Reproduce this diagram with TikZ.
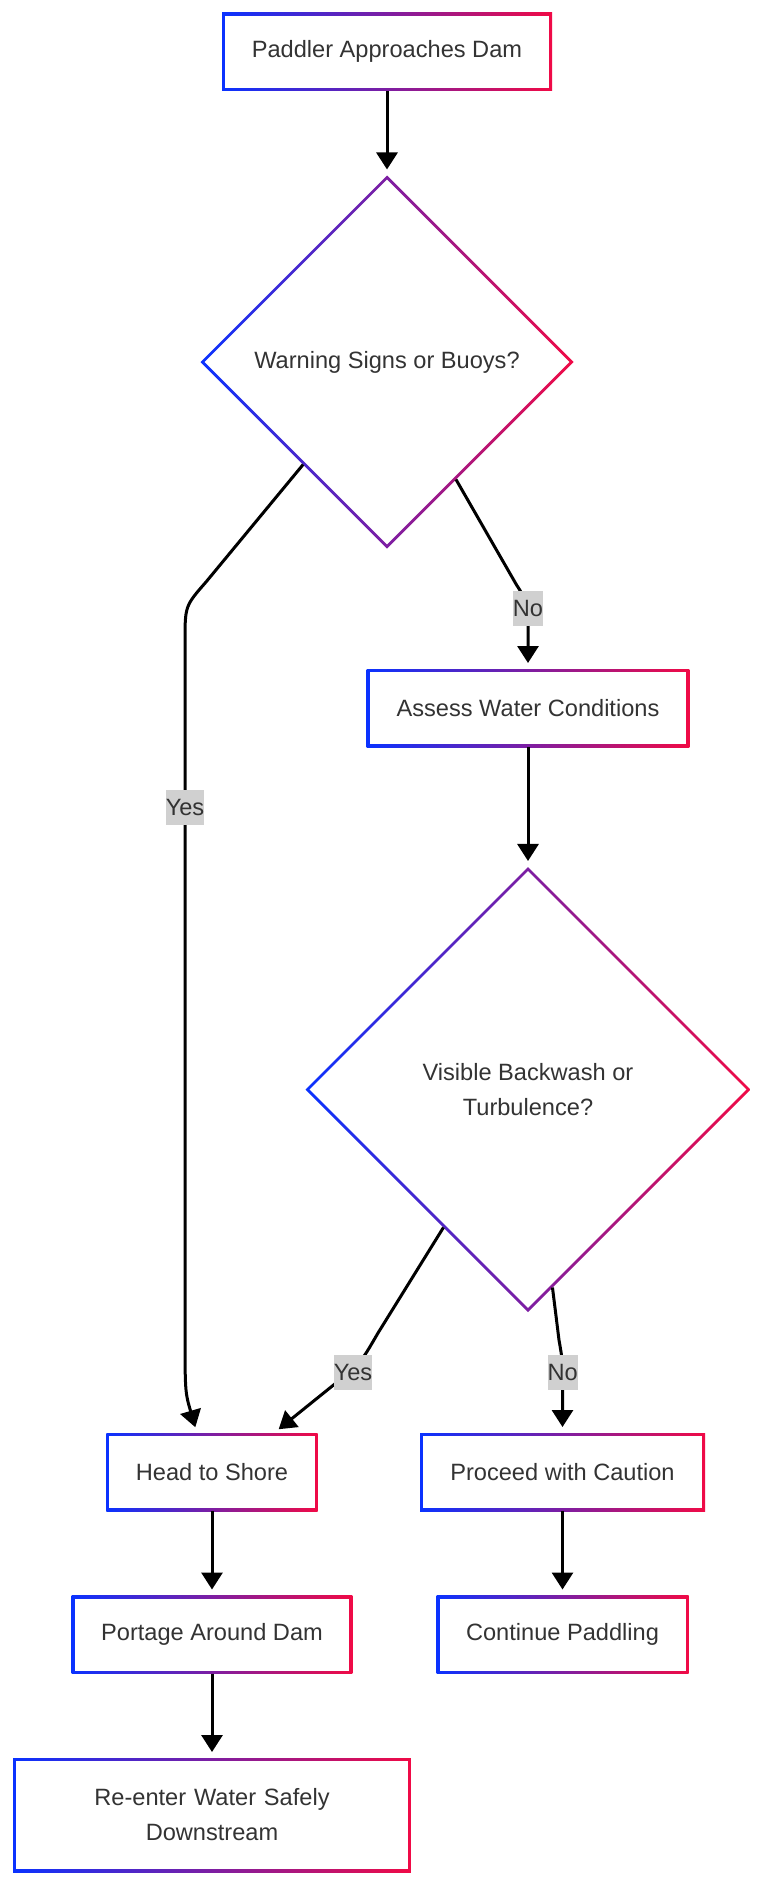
\documentclass[tikz,border=0pt]{standalone}
\usepackage{fontspec}
\setmainfont{Liberation Sans}
\usetikzlibrary{arrows.meta,shapes.geometric,calc}

\definecolor{gblue}{RGB}{10,50,255}
\definecolor{gred}{RGB}{240,10,70}
\definecolor{ink}{RGB}{51,51,51}
\definecolor{lblgray}{RGB}{208,208,208}

\tikzset{
  gradbox/.style={rectangle, left color=gblue, right color=gred, text=ink, outer sep=0pt,
    font=\fontsize{23.6}{35}\selectfont, inner xsep=29.5pt, minimum height=78pt,
    path picture={\fill[white] ([shift={(3pt,3pt)}]path picture bounding box.south west)
      rectangle ([shift={(-3pt,-3pt)}]path picture bounding box.north east);}},
  gradgem/.style={diamond, aspect=1, left color=gblue, right color=gred, text=ink, outer sep=0pt,
    font=\fontsize{23.6}{35}\selectfont, align=center, inner sep=0pt,
    path picture={\fill[white] ([yshift=-4.2pt]path picture bounding box.north)
      -- ([xshift=-4.2pt]path picture bounding box.east)
      -- ([yshift=4.2pt]path picture bounding box.south)
      -- ([xshift=4.2pt]path picture bounding box.west) -- cycle;}},
  lbl/.style={fill=lblgray, text=ink, font=\fontsize{23.6}{35}\selectfont,
    inner xsep=0pt, inner ysep=0pt, minimum height=35pt},
  flow/.style={line width=3pt, -{Triangle[length=17pt,width=21pt]}, shorten >=6pt}
}

\begin{document}
\begin{tikzpicture}[x=1pt, y=-1pt]

\useasboundingbox (0,0) rectangle (768,1895);

\node[gradbox, minimum width=330pt] (dam) at (387,51.7) {Paddler Approaches Dam};
\node[gradgem, minimum width=373pt, minimum height=373pt] (warn) at (387,362) {Warning Signs or Buoys?};
\node[gradbox, minimum width=322.6pt] (assess) at (528,708) {Assess Water Conditions};
\node[gradgem, minimum width=445pt, minimum height=445pt] (wash) at (528,1089.5) {Visible Backwash or\\Turbulence?};
\node[gradbox, minimum width=210.7pt] (head) at (212,1472) {Head to Shore};
\node[gradbox, minimum width=285pt] (proceed) at (562.5,1472) {Proceed with Caution};
\node[gradbox, minimum width=279.5pt] (portage) at (212,1634.5) {Portage Around Dam};
\node[gradbox, minimum width=252pt] (cont) at (562.5,1634.5) {Continue Paddling};
\node[gradbox, text width=338.6pt, align=center, minimum height=114pt] (reenter) at (212,1815)
  {Re-enter Water Safely\\Downstream};

\draw[flow] (dam) -- (warn);
\draw[flow] ($(warn.west)!0.55!(warn.south)$) -- (206,582) .. controls (185,606) .. (185,642)
  -- (185,1325) .. controls (185,1392) .. ([xshift=-15pt]head.north);
\draw[flow] ($(warn.south)!0.37!(warn.east)$) -- (516,584) .. controls (528,603) .. (528,622) -- (assess);
\draw[flow] (assess) -- (wash);
\draw[flow] ($(wash.west)!0.62!(wash.south)$) -- (378,1333) .. controls (360,1364) .. (336,1383)
  -- ([xshift=62pt]head.north);
\draw[flow] ($(wash.south)!0.11!(wash.east)$) -- (559,1340) .. controls (562.5,1360) .. (562.5,1382) -- (proceed);
\draw[flow] (head) -- (portage);
\draw[flow] (portage) -- (reenter);
\draw[flow] (proceed) -- (cont);

\node[lbl] (yes1) at (185,807) {Yes};
\node[lbl] (no1) at (528,608) {No};
\node[lbl] (yes2) at (353,1372.5) {Yes};
\node[lbl] (no2) at (562.7,1372.5) {No};

\end{tikzpicture}
\end{document}
